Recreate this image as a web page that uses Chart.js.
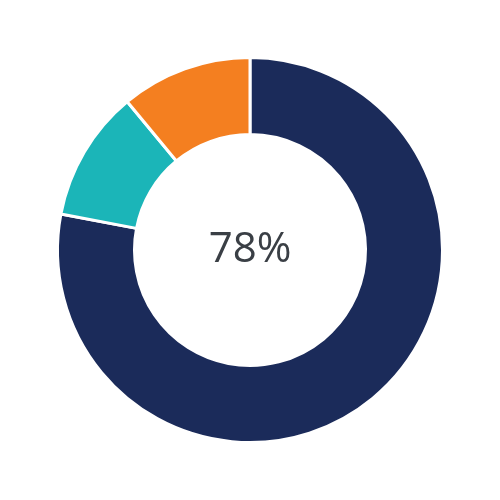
<!DOCTYPE html>
<html>
<head>
<meta charset="utf-8">
<script src="https://cdn.jsdelivr.net/npm/chart.js@4"></script>
<style>
  html, body { margin: 0; padding: 0; background: #fff; }
  #wrap { width: 500px; height: 500px; }
</style>
</head>
<body>
<div id="wrap"><canvas id="chart"></canvas></div>
<script>
const labels = ['Main', 'Second', 'Third'];
const values = [78, 11, 11];
const colors = ['#1b2b5a', '#1bb5b8', '#f47f20'];
const centerLabel = '78%';

// draws the big percentage in the hole
const centerText = {
  id: 'centerText',
  afterDraw(chart) {
    const { ctx, chartArea } = chart;
    const x = (chartArea.left + chartArea.right) / 2;
    const y = (chartArea.top + chartArea.bottom) / 2;
    ctx.save();
    ctx.font = '42px "Open Sans", sans-serif';
    ctx.fillStyle = '#3a3f45';
    ctx.textAlign = 'center';
    ctx.textBaseline = 'middle';
    ctx.fillText(centerLabel, x, y);
    ctx.restore();
  }
};

new Chart(document.getElementById('chart'), {
  type: 'doughnut',
  data: {
    labels: labels,
    datasets: [{
      data: values,
      backgroundColor: colors,
      borderColor: '#ffffff',
      borderWidth: 3
    }]
  },
  options: {
    responsive: true,
    maintainAspectRatio: false,
    animation: false,
    cutout: '60%',
    layout: { padding: 56 },
    plugins: {
      legend: { display: false },
      tooltip: { enabled: false }
    }
  },
  plugins: [centerText]
});
</script>
</body>
</html>
